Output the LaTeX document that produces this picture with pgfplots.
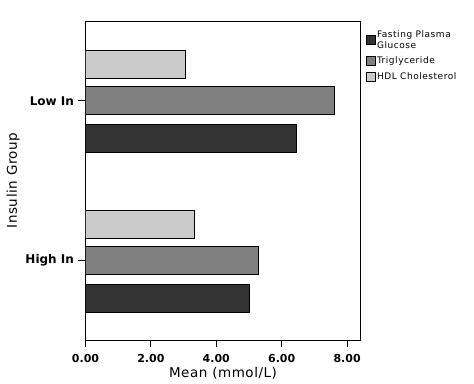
\documentclass[border=0pt]{standalone}
\usepackage{fontspec}
\setmainfont{DejaVu Sans}
\newfontfamily\legfont[LetterSpace=6]{DejaVu Sans}
\newfontfamily\labfont[LetterSpace=4]{DejaVu Sans}
\usepackage{pgfplots}
\pgfplotsset{compat=1.18}
\definecolor{fpg}{HTML}{333333}
\definecolor{trig}{HTML}{808080}
\definecolor{hdl}{HTML}{CBCBCB}
\begin{document}
\begin{tikzpicture}[x=1pt,y=1pt]
\useasboundingbox (-85.5,-43) rectangle (388.5,340);
\begin{axis}[
  at={(0,0)}, anchor=south west,
  scale only axis, width=275pt, height=319pt,
  xmin=0, xmax=8.41, ymin=-0.5, ymax=1.5,
  xbar, bar width=0.175,
  axis line style={line width=0.9pt},
  xtick={0,2,4,6,8},
  xticklabels={0.00,2.00,4.00,6.00,8.00},
  ytick={0,1}, yticklabels={High In,Low In},
  tick align=outside, xtick pos=bottom, ytick pos=left,
  major tick length=7pt,
  tick style={line width=0.9pt, black},
  ticklabel style={font=\bfseries\fontsize{11}{12}\selectfont},
  yticklabel style={font=\bfseries\fontsize{12}{13}\selectfont, xshift=-1pt},
  xticklabel style={yshift=-4pt},
  xlabel={Mean (mmol/L)}, ylabel={Insulin Group},
  label style={font=\labfont\fontsize{13.5}{14}\selectfont},
  xlabel style={yshift=2pt},
  ylabel style={yshift=-1pt},
  legend cell align=left,
  legend style={draw=none, fill=none, at={(rel axis cs:1,1)}, anchor=north west,
    xshift=2pt, yshift=-6pt, font=\legfont\fontsize{9}{10.5}\selectfont,
    nodes={align=left, inner sep=1.5pt}, row sep=4.5pt},
  legend image code/.code={\draw[#1, line width=0.8pt, draw=black] (0pt,-4.5pt) rectangle (9pt,4.5pt);},
]
\addplot[fill=fpg, draw=black, line width=0.8pt, bar shift=-0.2375] coordinates {(5.01,0) (6.44,1)};
\addplot[fill=trig, draw=black, line width=0.8pt, bar shift=0] coordinates {(5.30,0) (7.61,1)};
\addplot[fill=hdl, draw=black, line width=0.8pt, bar shift=0.2275] coordinates {(3.34,0) (3.07,1)};
\legend{{Fasting Plasma\\Glucose},Triglyceride,HDL Cholesterol}
\end{axis}
\end{tikzpicture}
\end{document}
